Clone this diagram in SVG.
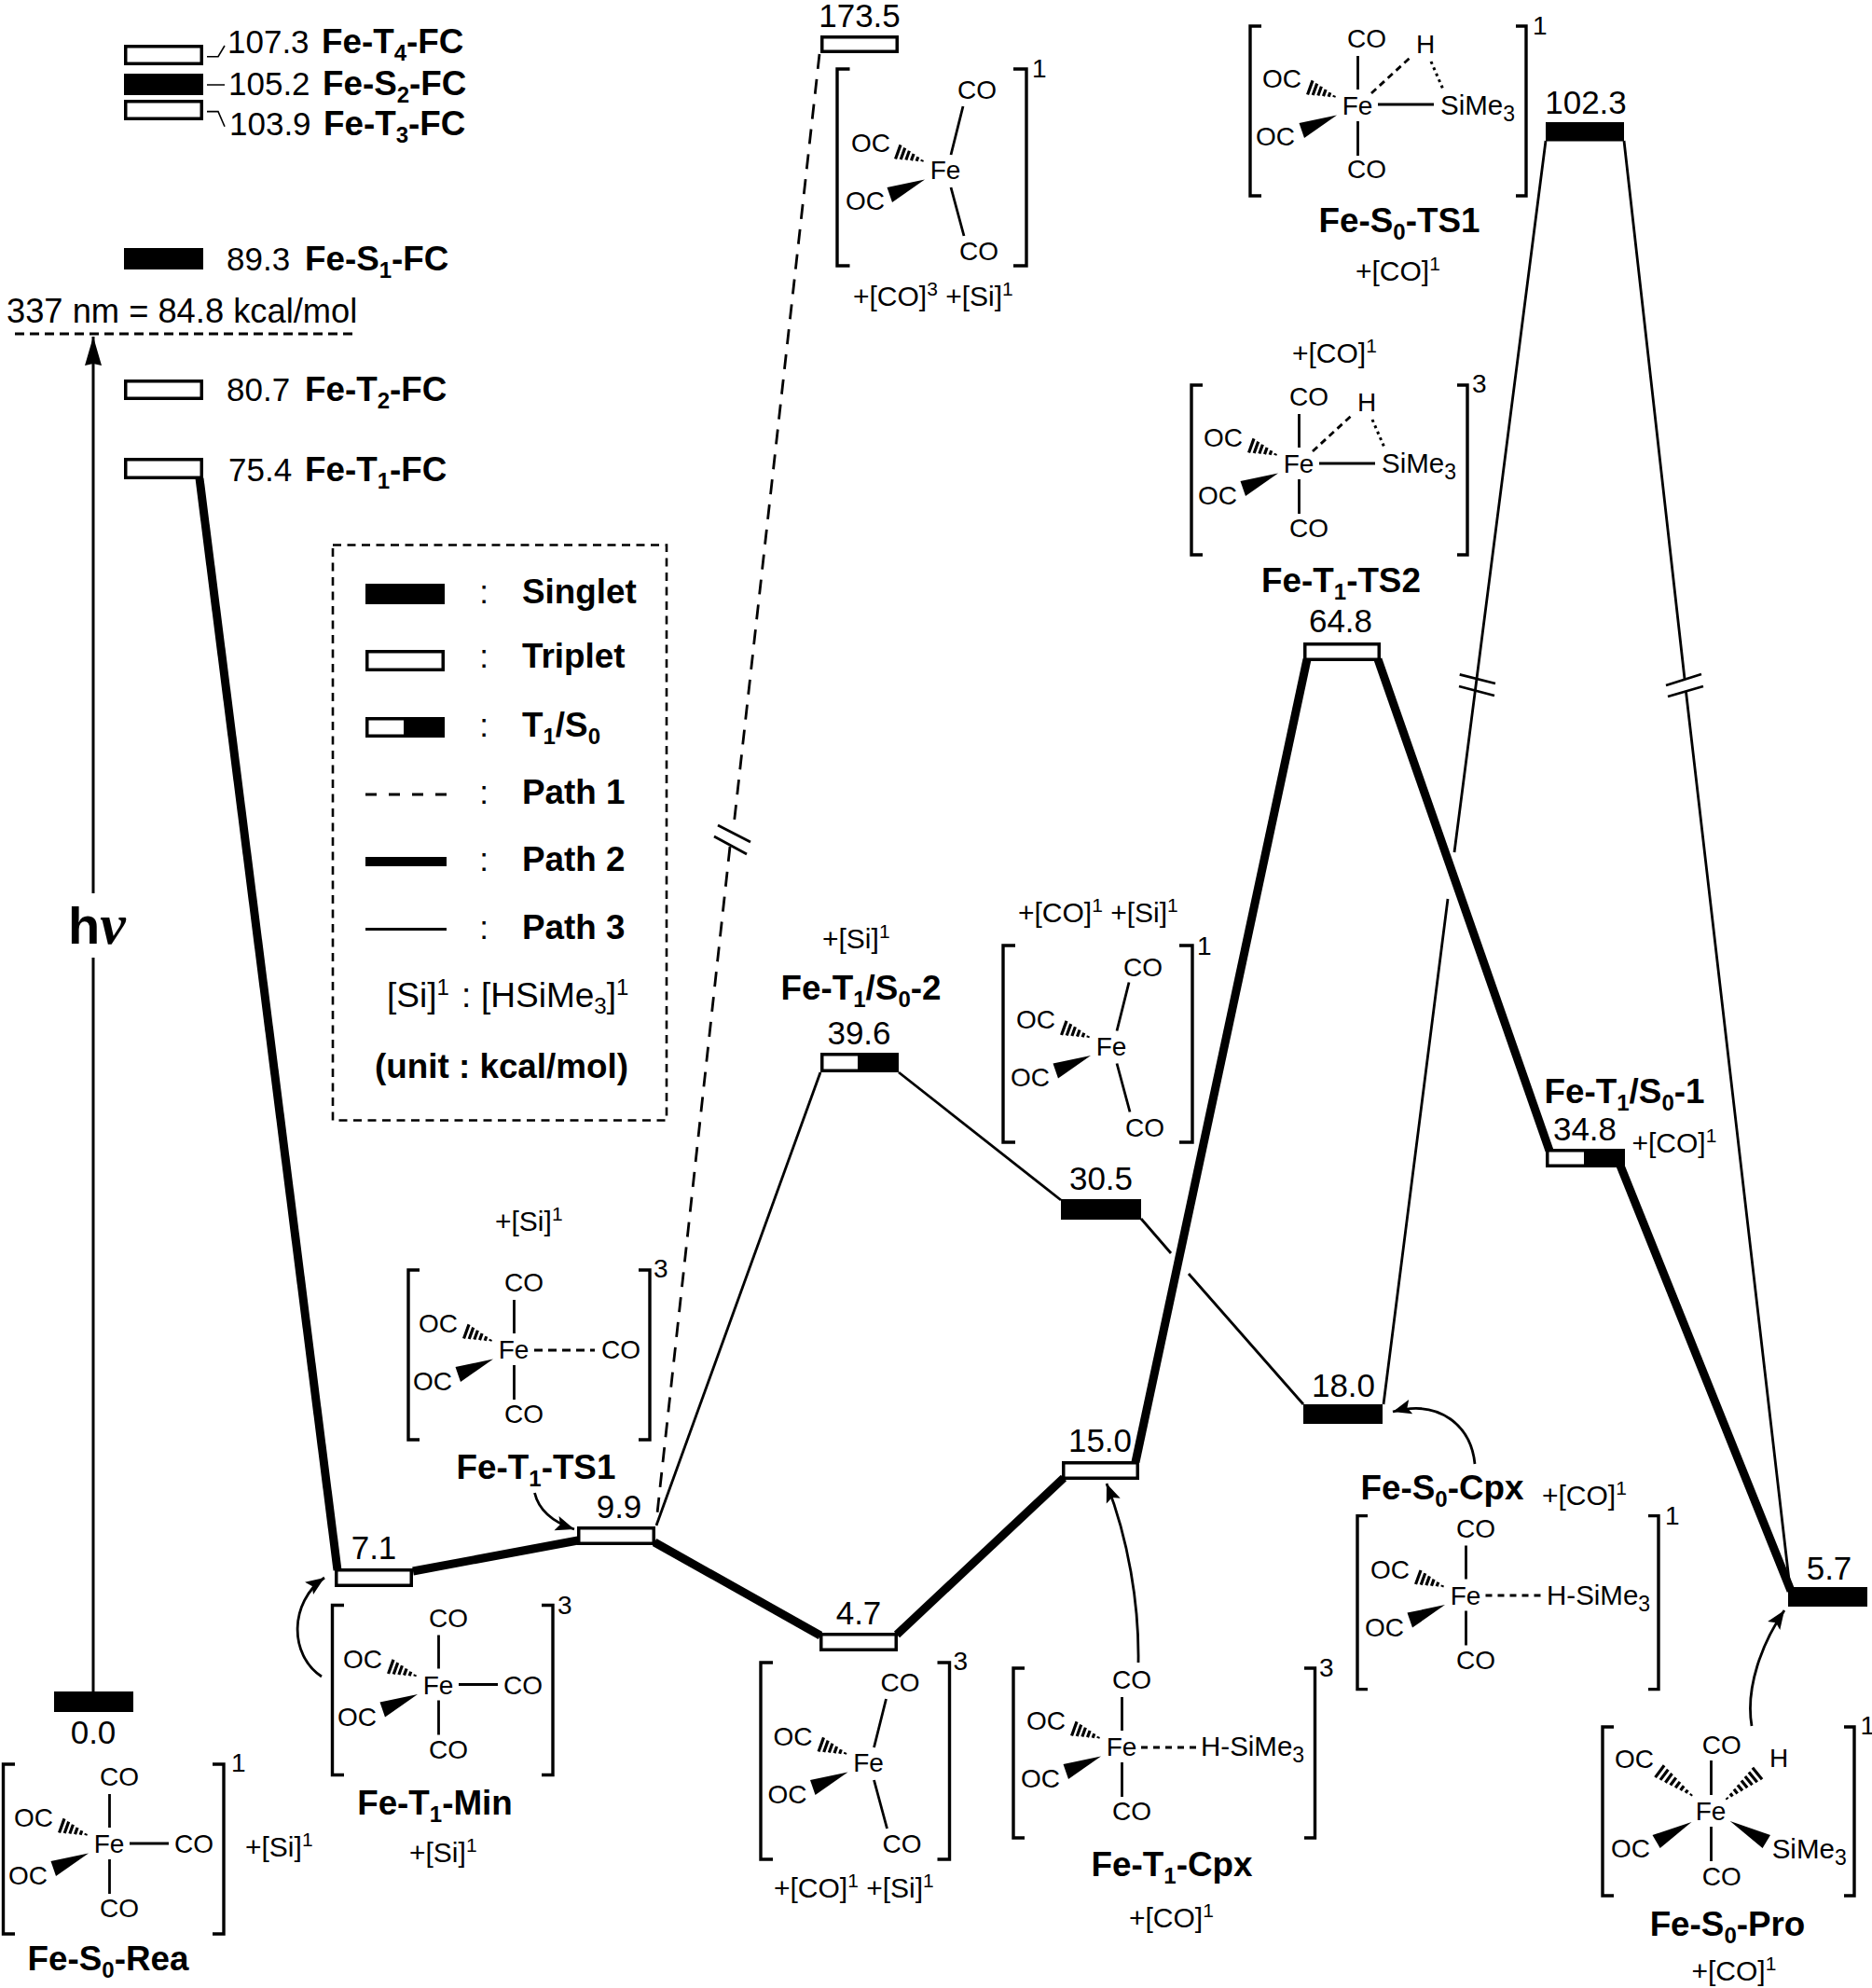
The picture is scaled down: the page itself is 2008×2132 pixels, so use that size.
<svg xmlns="http://www.w3.org/2000/svg" xmlns:xlink="http://www.w3.org/1999/xlink" width="2008" height="2132" viewBox="0 0 2008 2132">
<style>
text{font-family:"Liberation Sans",Arial,sans-serif;fill:#000}
.val{font-size:35px}
.lab{font-size:36.8px;font-weight:bold}
.mid{text-anchor:middle}
.m{font-size:28px}
.si{font-size:29.5px}
.p{font-size:30px}
.sb{font-size:24px}
.sm{font-size:23px}
.sp{font-size:21px}
.t{fill:#fff;stroke:#000;stroke-width:3.5}
.k{fill:#000;stroke:#000;stroke-width:3.5}
.br{fill:none;stroke:#000;stroke-width:3.4}
.b{fill:none;stroke:#000;stroke-width:2.8}
.thin{fill:none;stroke:#000;stroke-width:2.8}
.thick{fill:none;stroke:#000;stroke-width:9}
.dash{fill:none;stroke:#000;stroke-width:2.8;stroke-dasharray:16 11}
.dsh{fill:none;stroke:#000;stroke-width:2.8;stroke-dasharray:9 6}
.dt{fill:none;stroke:#000;stroke-width:3;stroke-dasharray:3 4}
.box{fill:none;stroke:#000;stroke-width:2.6;stroke-dasharray:9 6.5}
.hs{fill:none;stroke:#000;stroke-width:3.2}
.lead{fill:none;stroke:#000;stroke-width:1.6}
</style>
<defs>
<marker id="ah" markerUnits="userSpaceOnUse" markerWidth="22" markerHeight="18" refX="20" refY="9" orient="auto"><path d="M20,9L0,1L4,9L0,17Z"/></marker>
<marker id="av" markerUnits="userSpaceOnUse" markerWidth="34" markerHeight="20" refX="31" refY="10" orient="auto"><path d="M31,10L0,1L2,10L0,19Z"/></marker>
<g id="hash"><path class="hs" d="M2,-1V1M7.5,-2.4V2.4M13,-3.8V3.8M18.5,-5.2V5.2M24,-6.6V6.6M29.5,-8V8"/></g>
<g id="hashL"><path class="hs" d="M2,-1V1M8,-2V2M14,-3V3M20,-4V4M26,-5V5M32,-6V6M38,-7V7M44,-8V8"/></g>
<g id="wedges"><use href="#hash" xlink:href="#hash" transform="translate(-23,-19) rotate(200)"/><path d="M-22,0.5L-62.5,9L-57,25Z"/></g>
<path id="vb" class="b" d="M0.5,-63V-27M0.5,7V44"/>
<path id="tb" class="b" d="M6,-26L19,-78M6,9L20,61"/>
</defs>

<g id="connectors">
<path class="thick" d="M214,513L362,1684"/>
<path class="thick" d="M443,1685L620,1652"/>
<path class="thick" d="M702,1654L880,1754"/>
<path class="thick" d="M962,1753L1141,1585"/>
<path class="thick" d="M1218,1568L1402,707"/>
<path class="thick" d="M1478,707L1662,1234"/>
<path class="thick" d="M1738,1250L1921,1706"/>
<path class="dash" d="M879,58L787,886"/>
<path class="dash" d="M783,908L704,1632"/>
<path class="b" d="M770,885L805,903M766,897L801,916"/>
<path class="thin" d="M704,1636L880,1150"/>
<path class="thin" d="M964,1150L1138,1287"/>
<path class="thin" d="M1224,1307L1256,1344M1275,1366L1398,1506"/>
<path class="thin" d="M1484,1506L1553,964M1560,914L1584,728M1582.3,741L1658,151"/>
<path class="b" d="M1565.7,723.3L1604,733M1565,736L1603,746"/>
<path class="thin" d="M1742,151L1807,728M1808.5,742L1920,1703"/>
<path class="b" d="M1787,735L1825,723M1789,747L1827,736"/>
<path class="thin" d="M100,958V361" marker-end="url(#av)" style="stroke-width:3"/>
<path class="thin" d="M100,1027V1815" style="stroke-width:3"/>
<path class="lead" d="M222,60.7H234L241,49M222,91H241M222,119.6H234L241,135.7"/>
<path class="thin" d="M345,1798C310,1775 310,1718 348,1692" marker-end="url(#ah)"/>
<path class="thin" d="M573.5,1601C578,1620 592,1632 616,1640" marker-end="url(#ah)"/>
<path class="thin" d="M1221,1783C1222,1720 1210,1650 1187,1591" marker-end="url(#ah)"/>
<path class="thin" d="M1582,1570C1578,1530 1545,1500 1494,1514" marker-end="url(#ah)"/>
<path class="thin" d="M1879,1851C1872,1810 1890,1762 1914,1727" marker-end="url(#ah)"/>
</g>

<g id="excitation">
<text class="val" x="7" y="346" style="font-size:36.3px">337 nm = 84.8 kcal/mol</text>
<path d="M16,358H382" fill="none" stroke="#000" stroke-width="3" stroke-dasharray="10 6"/>
<text x="73" y="1012" style="font-size:56px;font-weight:bold">h<tspan style="font-family:'Liberation Serif',serif;font-style:italic;font-size:62px">v</tspan></text>
</g>

<g id="fe-t4-fc"><rect class="t" x="134.75" y="49.75" width="81.5" height="18.5"/><text class="val" x="244" y="57">107.3</text><text class="lab" x="345" y="57">Fe-T<tspan class="sb" dy="8">4</tspan><tspan dy="-8">-FC</tspan></text></g>
<g id="fe-s2-fc"><rect class="k" x="134.75" y="80.75" width="81.5" height="19.5"/><text class="val" x="245" y="102">105.2</text><text class="lab" x="346" y="102">Fe-S<tspan class="sb" dy="8">2</tspan><tspan dy="-8">-FC</tspan></text></g>
<g id="fe-t3-fc"><rect class="t" x="134.75" y="108.75" width="81.5" height="18.5"/><text class="val" x="246" y="145">103.9</text><text class="lab" x="347" y="145">Fe-T<tspan class="sb" dy="8">3</tspan><tspan dy="-8">-FC</tspan></text></g>
<g id="fe-s1-fc"><rect class="k" x="134.75" y="267.75" width="81.5" height="19.5"/><text class="val" x="243" y="290">89.3</text><text class="lab" x="327" y="290">Fe-S<tspan class="sb" dy="8">1</tspan><tspan dy="-8">-FC</tspan></text></g>
<g id="fe-t2-fc"><rect class="t" x="134.75" y="408.75" width="81.5" height="18.5"/><text class="val" x="243" y="430">80.7</text><text class="lab" x="327" y="430">Fe-T<tspan class="sb" dy="8">2</tspan><tspan dy="-8">-FC</tspan></text></g>
<g id="fe-t1-fc"><rect class="t" x="134.75" y="492.75" width="81.5" height="19.5"/><text class="val" x="245" y="516">75.4</text><text class="lab" x="327" y="516">Fe-T<tspan class="sb" dy="8">1</tspan><tspan dy="-8">-FC</tspan></text></g>

<g id="fe-s0-rea">
<rect class="k" x="59.75" y="1815.75" width="81.5" height="18.5"/>
<text class="val mid" x="100" y="1870">0.0</text>
<g transform="translate(117,1987)">
<path class="br" d="M-101,-95H-113.5V87H-101M111,-95H123V87H111"/>
<use href="#vb" xlink:href="#vb"/><use href="#wedges" xlink:href="#wedges"/><path class="b" d="M22,-10H64"/>
<text class="m mid" x="0" y="0">Fe</text><text class="m" x="-10" y="-72">CO</text><text class="m" x="-10" y="69">CO</text><text class="m" x="70" y="0">CO</text><text class="m" x="-102" y="-28">OC</text><text class="m" x="-108" y="34">OC</text>
<text class="m" x="131" y="-87">1</text>
</g>
<text class="p" x="263" y="1991">+[Si]<tspan class="sp" dy="-11">1</tspan></text>
<text class="lab mid" x="116" y="2113">Fe-S<tspan class="sb" dy="8">0</tspan><tspan dy="-8">-Rea</tspan></text>
</g>

<g id="fe-t1-min">
<rect class="t" x="360.75" y="1683.75" width="80.5" height="16.5"/>
<text class="val mid" x="401" y="1672">7.1</text>
<g transform="translate(470,1816.5)">
<path class="br" d="M-101,-95H-113.5V87H-101M111,-95H123V87H111"/>
<use href="#vb" xlink:href="#vb"/><use href="#wedges" xlink:href="#wedges"/><path class="b" d="M22,-10H64"/>
<text class="m mid" x="0" y="0">Fe</text><text class="m" x="-10" y="-72">CO</text><text class="m" x="-10" y="69">CO</text><text class="m" x="70" y="0">CO</text><text class="m" x="-102" y="-28">OC</text><text class="m" x="-108" y="34">OC</text>
<text class="m" x="128" y="-86">3</text>
</g>
<text class="lab mid" x="466.5" y="1946">Fe-T<tspan class="sb" dy="8">1</tspan><tspan dy="-8">-Min</tspan></text>
<text class="p" x="439" y="1997">+[Si]<tspan class="sp" dy="-11">1</tspan></text>
</g>

<g id="fe-t1-ts1">
<rect class="t" x="620.75" y="1638.75" width="80.5" height="16.5"/>
<text class="val mid" x="664" y="1628">9.9</text>
<g transform="translate(551,1457)">
<path class="br" d="M-101,-95H-113V87H-101M134,-95H146V87H134"/>
<use href="#vb" xlink:href="#vb"/><use href="#wedges" xlink:href="#wedges"/><path class="dsh" d="M22,-9H87"/>
<text class="m mid" x="0" y="0">Fe</text><text class="m" x="-10" y="-72">CO</text><text class="m" x="-10" y="69">CO</text><text class="m" x="94" y="0">CO</text><text class="m" x="-102" y="-28">OC</text><text class="m" x="-108" y="34">OC</text>
<text class="m" x="150" y="-87">3</text>
</g>
<text class="p" x="531" y="1320">+[Si]<tspan class="sp" dy="-11">1</tspan></text>
<text class="lab mid" x="575" y="1586">Fe-T<tspan class="sb" dy="8">1</tspan><tspan dy="-8">-TS1</tspan></text>
</g>

<g id="fe-t1-int">
<rect class="t" x="880.75" y="1752.75" width="80.5" height="16.5"/>
<text class="val mid" x="921" y="1742">4.7</text>
<g transform="translate(931.5,1900)">
<path class="br" d="M-102.5,-117H-115.5V94H-102.5M74,-117H87V94H74"/>
<use href="#tb" xlink:href="#tb"/><use href="#wedges" xlink:href="#wedges"/>
<text class="m mid" x="0" y="0">Fe</text><text class="m" x="13" y="-86">CO</text><text class="m" x="15" y="87">CO</text><text class="m" x="-102" y="-28">OC</text><text class="m" x="-108" y="34">OC</text>
<text class="m" x="91" y="-109">3</text>
</g>
<text class="p" x="830" y="2035">+[CO]<tspan class="sp" dy="-11">1</tspan><tspan dy="11"> +[Si]</tspan><tspan class="sp" dy="-11">1</tspan></text>
</g>

<g id="fe-dissoc-173">
<rect class="t" x="881.75" y="39.75" width="80.5" height="15.5"/>
<text class="val mid" x="922" y="29">173.5</text>
<g transform="translate(1014,192)">
<path class="br" d="M-102.5,-118H-116V93H-102.5M73,-118H87V93H73"/>
<use href="#tb" xlink:href="#tb"/><use href="#wedges" xlink:href="#wedges"/>
<text class="m mid" x="0" y="0">Fe</text><text class="m" x="13" y="-86">CO</text><text class="m" x="15" y="87">CO</text><text class="m" x="-101" y="-29">OC</text><text class="m" x="-107" y="33">OC</text>
<text class="m" x="93" y="-109">1</text>
</g>
<text class="p" x="915" y="328">+[CO]<tspan class="sp" dy="-11">3</tspan><tspan dy="11"> +[Si]</tspan><tspan class="sp" dy="-11">1</tspan></text>
</g>

<g id="fe-t1-s0-2">
<rect class="t" x="881.75" y="1130.75" width="80.5" height="17.5"/>
<rect x="920" y="1129" width="44" height="21" fill="#000"/>
<text class="val mid" x="921.5" y="1120">39.6</text>
<text class="lab mid" x="923.5" y="1072">Fe-T<tspan class="sb" dy="8">1</tspan><tspan dy="-8">/S</tspan><tspan class="sb" dy="8">0</tspan><tspan dy="-8">-2</tspan></text>
<text class="p" x="882" y="1017">+[Si]<tspan class="sp" dy="-11">1</tspan></text>
</g>

<g id="fe-s0-int">
<rect class="k" x="1139.75" y="1287.75" width="82.5" height="18.5"/>
<text class="val mid" x="1181" y="1276">30.5</text>
<g transform="translate(1192,1131.5)">
<path class="br" d="M-103,-117.5H-116V93.5H-103M73,-117.5H87V93.5H73"/>
<use href="#tb" xlink:href="#tb"/><use href="#wedges" xlink:href="#wedges"/>
<text class="m mid" x="0" y="0">Fe</text><text class="m" x="13" y="-85">CO</text><text class="m" x="15" y="87">CO</text><text class="m" x="-102" y="-29">OC</text><text class="m" x="-108" y="33">OC</text>
<text class="m" x="92" y="-108">1</text>
</g>
<text class="p" x="1092" y="989">+[CO]<tspan class="sp" dy="-11">1</tspan><tspan dy="11"> +[Si]</tspan><tspan class="sp" dy="-11">1</tspan></text>
</g>

<g id="fe-t1-cpx">
<rect class="t" x="1140.75" y="1568.75" width="79.5" height="16.5"/>
<text class="val mid" x="1180" y="1557">15.0</text>
<g transform="translate(1203,1883)">
<path class="br" d="M-104,-94H-116V88H-104M196,-94H207.5V88H196"/>
<use href="#vb" xlink:href="#vb"/><use href="#wedges" xlink:href="#wedges"/><path class="dsh" d="M21,-9H81" style="stroke-dasharray:7 6"/>
<text class="m mid" x="0" y="0">Fe</text><text class="m" x="-10" y="-72">CO</text><text class="m" x="-10" y="69">CO</text><text class="m si" x="85" y="0">H-SiMe<tspan class="sm" dy="7">3</tspan></text><text class="m" x="-102" y="-28">OC</text><text class="m" x="-108" y="34">OC</text>
<text class="m" x="212" y="-85">3</text>
</g>
<text class="lab mid" x="1257" y="2012">Fe-T<tspan class="sb" dy="8">1</tspan><tspan dy="-8">-Cpx</tspan></text>
<text class="p" x="1211" y="2067">+[CO]<tspan class="sp" dy="-11">1</tspan></text>
</g>

<g id="fe-t1-ts2">
<rect class="t" x="1399.75" y="690.75" width="79.5" height="16.5"/>
<text class="val mid" x="1438" y="678">64.8</text>
<g transform="translate(1393,507)">
<path class="br" d="M-103,-94H-115V88H-103M170,-94H181V88H170"/>
<use href="#vb" xlink:href="#vb"/><use href="#wedges" xlink:href="#wedges"/><path class="b" d="M22,-10H82"/><path class="dsh" d="M15,-23L58.5,-63" style="stroke-dasharray:7 5"/><path class="dt" d="M79,-57L92,-27"/>
<text class="m mid" x="0" y="0">Fe</text><text class="m" x="-10" y="-72">CO</text><text class="m" x="-10" y="69">CO</text><text class="m" x="63" y="-66">H</text><text class="m si" x="89" y="0">SiMe<tspan class="sm" dy="7">3</tspan></text><text class="m" x="-102" y="-28">OC</text><text class="m" x="-108" y="34">OC</text>
<text class="m" x="186" y="-86">3</text>
</g>
<text class="lab mid" x="1438.5" y="635">Fe-T<tspan class="sb" dy="8">1</tspan><tspan dy="-8">-TS2</tspan></text>
<text class="p" x="1386" y="389">+[CO]<tspan class="sp" dy="-11">1</tspan></text>
</g>

<g id="fe-s0-ts1">
<rect class="k" x="1659.75" y="132.75" width="80.5" height="17"/>
<text class="val mid" x="1701" y="122">102.3</text>
<g transform="translate(1456,123)">
<path class="br" d="M-103,-95H-115V87H-103M170,-95H181V87H170"/>
<use href="#vb" xlink:href="#vb"/><use href="#wedges" xlink:href="#wedges"/><path class="b" d="M22,-11H82"/><path class="dsh" d="M15,-23L58.5,-63" style="stroke-dasharray:7 5"/><path class="dt" d="M79,-57L92,-27"/>
<text class="m mid" x="0" y="0">Fe</text><text class="m" x="-11" y="-72">CO</text><text class="m" x="-11" y="68">CO</text><text class="m" x="63" y="-66">H</text><text class="m si" x="89" y="0">SiMe<tspan class="sm" dy="7">3</tspan></text><text class="m" x="-102" y="-29">OC</text><text class="m" x="-109" y="33">OC</text>
<text class="m" x="188" y="-86">1</text>
</g>
<text class="lab mid" x="1501" y="249">Fe-S<tspan class="sb" dy="8">0</tspan><tspan dy="-8">-TS1</tspan></text>
<text class="p" x="1454" y="301">+[CO]<tspan class="sp" dy="-11">1</tspan></text>
</g>

<g id="fe-s0-cpx">
<rect class="k" x="1399.75" y="1507.75" width="81.5" height="17.5"/>
<text class="val mid" x="1441" y="1498">18.0</text>
<g transform="translate(1572,1720.6)">
<path class="br" d="M-105,-95H-116V91H-105M196,-95H207V91H196"/>
<use href="#vb" xlink:href="#vb"/><use href="#wedges" xlink:href="#wedges"/><path class="dsh" d="M21.5,-9.6H81" style="stroke-dasharray:7 6"/>
<text class="m mid" x="0" y="0">Fe</text><text class="m" x="-10" y="-72">CO</text><text class="m" x="-10" y="69">CO</text><text class="m si" x="87" y="0">H-SiMe<tspan class="sm" dy="7">3</tspan></text><text class="m" x="-102" y="-28">OC</text><text class="m" x="-108" y="34">OC</text>
<text class="m" x="214" y="-86">1</text>
</g>
<text class="lab mid" x="1547" y="1608">Fe-S<tspan class="sb" dy="8">0</tspan><tspan dy="-8">-Cpx</tspan></text>
<text class="p" x="1654" y="1613.5">+[CO]<tspan class="sp" dy="-11">1</tspan></text>
</g>

<g id="fe-t1-s0-1">
<rect class="t" x="1659.75" y="1233.75" width="81.5" height="16.5"/>
<rect x="1699" y="1232" width="44" height="20" fill="#000"/>
<text class="val mid" x="1700" y="1223">34.8</text>
<text class="lab mid" x="1742.5" y="1183">Fe-T<tspan class="sb" dy="8">1</tspan><tspan dy="-8">/S</tspan><tspan class="sb" dy="8">0</tspan><tspan dy="-8">-1</tspan></text>
<text class="p" x="1750.5" y="1236">+[CO]<tspan class="sp" dy="-11">1</tspan></text>
</g>

<g id="fe-s0-pro">
<rect class="k" x="1919.75" y="1703.75" width="81.5" height="17.5"/>
<text class="val mid" x="1962" y="1694">5.7</text>
<path class="br" d="M1731,1852H1719V2033H1731M1978,1852H1989V2033H1978"/>
<path class="b" d="M1835.5,1888V1925M1835.5,1959V1996"/>
<use href="#hashL" xlink:href="#hashL" transform="translate(1815.6,1926) rotate(216.7)"/>
<use href="#hashL" xlink:href="#hashL" transform="translate(1851,1930) rotate(-39.5)"/>
<path d="M1814.5,1954L1772.5,1968L1780.7,1982Z"/>
<path d="M1855.7,1953L1899,1968L1890.6,1982Z"/>
<text class="m mid" x="1835" y="1952">Fe</text>
<text class="m" x="1825.7" y="1881">CO</text>
<text class="m" x="1825.7" y="2022">CO</text>
<text class="m" x="1732" y="1896">OC</text>
<text class="m" x="1728" y="1992">OC</text>
<text class="m" x="1898" y="1895">H</text>
<text class="m si" x="1900.7" y="1993">SiMe<tspan class="sm" dy="7">3</tspan></text>
<text class="m" x="1995.6" y="1860">1</text>
<text class="lab mid" x="1853" y="2076">Fe-S<tspan class="sb" dy="8">0</tspan><tspan dy="-8">-Pro</tspan></text>
<text class="p" x="1814.5" y="2124">+[CO]<tspan class="sp" dy="-11">1</tspan></text>
</g>

<g id="legend">
<rect class="box" x="357" y="584.5" width="358" height="617"/>
<rect class="k" x="393.75" y="627.75" width="81.5" height="18.5"/>
<rect class="t" x="393.75" y="698.75" width="81.5" height="19.5"/>
<rect class="t" x="393.75" y="770.75" width="81.5" height="18.5"/>
<rect x="433" y="769" width="44" height="22" fill="#000"/>
<path d="M392,852H479" fill="none" stroke="#000" stroke-width="2.8" stroke-dasharray="12 13"/>
<path d="M392,924H479" fill="none" stroke="#000" stroke-width="10"/>
<path d="M392,996.5H479" fill="none" stroke="#000" stroke-width="3"/>
<text class="val mid" x="519" y="647">:</text>
<text class="val mid" x="519" y="716">:</text>
<text class="val mid" x="519" y="790">:</text>
<text class="val mid" x="519" y="862">:</text>
<text class="val mid" x="519" y="934">:</text>
<text class="val mid" x="519" y="1007">:</text>
<text class="lab" x="560" y="647">Singlet</text>
<text class="lab" x="560" y="716">Triplet</text>
<text class="lab" x="560" y="790">T<tspan class="sb" dy="8">1</tspan><tspan dy="-8">/S</tspan><tspan class="sb" dy="8">0</tspan></text>
<text class="lab" x="560" y="862">Path 1</text>
<text class="lab" x="560" y="934">Path 2</text>
<text class="lab" x="560" y="1007">Path 3</text>
<text x="415" y="1080" style="font-size:37px">[Si]<tspan style="font-size:24px" dy="-13">1</tspan></text>
<text x="495" y="1080" style="font-size:37px">:</text>
<text x="516" y="1080" style="font-size:37px">[HSiMe<tspan class="sb" dy="7">3</tspan><tspan dy="-7">]</tspan><tspan style="font-size:24px" dy="-13">1</tspan></text>
<text class="lab mid" x="538" y="1156">(unit : kcal/mol)</text>
</g>
</svg>
